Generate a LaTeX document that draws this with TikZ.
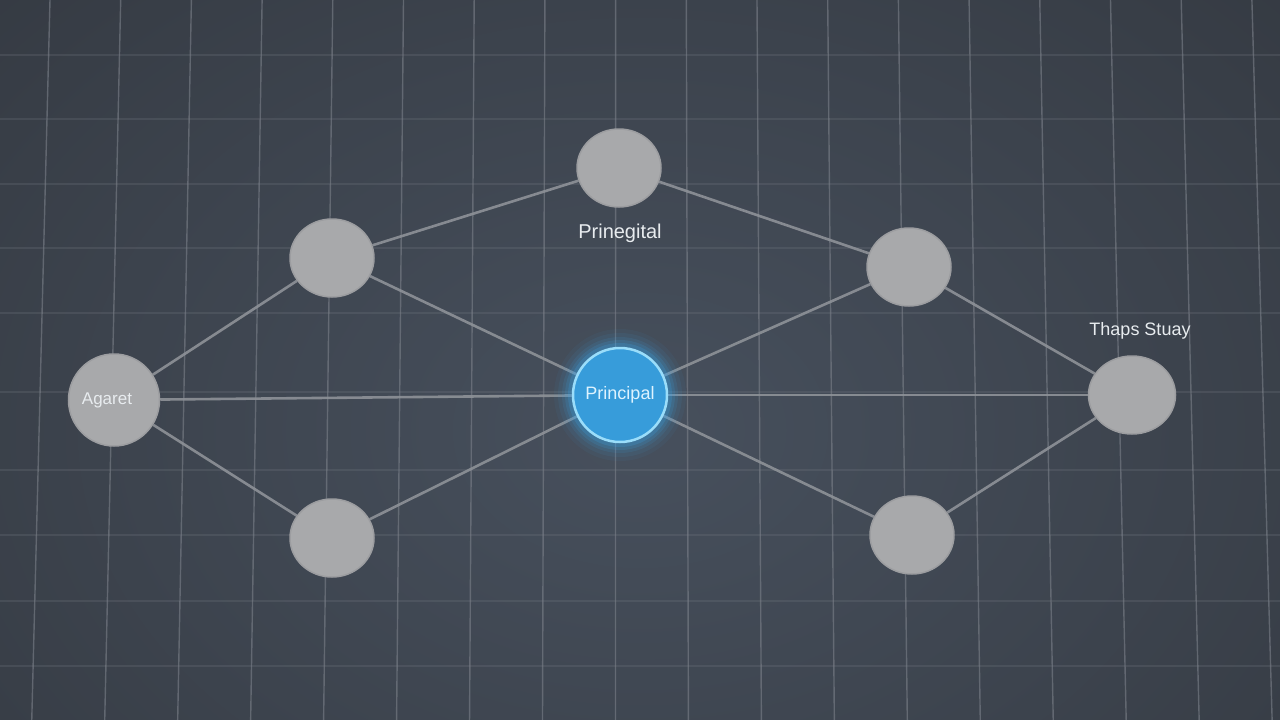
\documentclass[tikz,border=0pt]{standalone}
\usepackage{fontspec}
\setmainfont{Liberation Sans}
\usetikzlibrary{shapes.geometric}
\pgfdeclarelayer{bg}
\pgfdeclarelayer{edges}
\pgfsetlayers{bg,edges,main}
\definecolor{bgdark}{HTML}{292C31}
\definecolor{bglight}{HTML}{47505D}
\definecolor{gridc}{HTML}{7C818A}
\definecolor{nodefill}{HTML}{A8A9AB}
\definecolor{nodeedge}{HTML}{9C9DA0}
\definecolor{connc}{HTML}{8E9298}
\definecolor{bluefill}{HTML}{379CDA}
\definecolor{blueedge}{HTML}{9ADDFA}
\definecolor{glowc}{HTML}{3AA8F0}
\definecolor{txt}{HTML}{E8ECEF}
\definecolor{bluetxt}{HTML}{DDF3FF}
\begin{document}
\begin{tikzpicture}[x=1pt,y=-1pt,
  gnode/.style={ellipse, fill=nodefill, draw=nodeedge, line width=1.5pt,
    minimum width=84pt, minimum height=78pt, inner sep=0pt, text=txt,
    font=\fontsize{17}{17}\selectfont},
  bluenode/.style={circle, fill=bluefill, draw=blueedge, line width=2.5pt,
    minimum size=94pt, inner sep=0pt, text=bluetxt,
    font=\fontsize{18}{18}\selectfont},
  lbl/.style={text=txt, inner sep=0pt, font=\fontsize{20}{20}\selectfont},
  conn/.style={draw=connc, line width=2.6pt, opacity=0.9},
  gridv/.style={draw=gridc, line width=1.4pt, opacity=0.6},
  gridh/.style={draw=gridc, line width=1.1pt, opacity=0.22}]
\useasboundingbox (0,0) rectangle (1280,720);
\begin{pgfonlayer}{bg}
  \fill[bgdark] (0,0) rectangle (1280,720);
  \begin{scope}
    \clip (0,0) rectangle (1280,720);
    \shade[inner color=bglight, outer color=bgdark] (640,430) ellipse (1500 and 1100);
  \end{scope}
  \foreach \i in {0,...,17} {
    \pgfmathsetmacro\xt{50+70.7*\i}
    \pgfmathsetmacro\xb{620+(\xt-620)*1.032}
    \draw[gridv] (\xt,0) -- (\xb,720);
  }
  \foreach \y in {55,119,184,248,313,392,470,535,601,666}
    \draw[gridh] (0,\y) -- (1280,\y);
\end{pgfonlayer}

\node[gnode] (top) at (619,168) {};
\node[gnode] (ul) at (332,258) {};
\node[gnode] (ur) at (909,267) {};
\node[gnode, minimum width=91pt, minimum height=92pt] (agent) at (114,400) {\hspace*{-14pt}Agaret};
\node[gnode, minimum width=87pt, minimum height=78pt] (right) at (1132,395) {};
\node[gnode] (ll) at (332,538) {};
\node[gnode] (lr) at (912,535) {};
\node[bluenode] (center) at (620,395) {Principal};
\node[lbl] (toplbl) at (620,233) {Prinegital};
\node[lbl, font=\fontsize{18}{18}\selectfont] (rightlbl) at (1140,331) {Thaps Stuay};

\begin{pgfonlayer}{edges}
  \draw[conn] (agent) -- (ul);
  \draw[conn] (agent) -- (ll);
  \draw[conn] (agent) -- (center);
  \draw[conn] (ul) -- (top);
  \draw[conn] (ul) -- (center);
  \draw[conn] (ll) -- (center);
  \draw[conn] (top) -- (ur);
  \draw[conn] (ur) -- (center);
  \draw[conn] (ur) -- (right);
  \draw[conn] (center) -- (right);
  \draw[conn] (center) -- (lr);
  \draw[conn] (lr) -- (right);
  \foreach \r/\o in {66/0.05,62/0.07,58/0.1,55/0.14,52/0.2}
    \fill[glowc, opacity=\o] (center.center) circle (\r);
\end{pgfonlayer}
\end{tikzpicture}
\end{document}
